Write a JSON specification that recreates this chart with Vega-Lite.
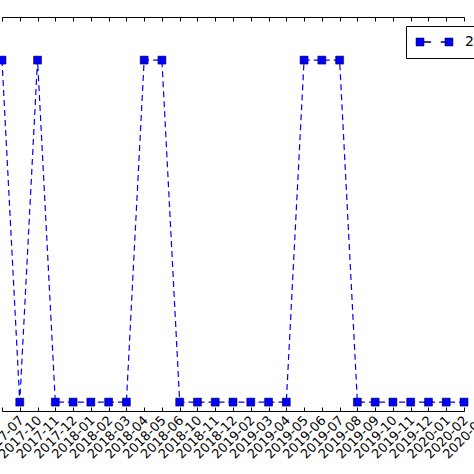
{
  "$schema": "https://vega.github.io/schema/vega-lite/v6.json",
  "width": 474,
  "height": 394,
  "autosize": {"type": "none"},
  "padding": {"top": 17, "left": 0, "right": 0, "bottom": 63},
  "background": "white",
  "config": {
    "view": {"stroke": null},
    "font": "DejaVu Sans",
    "axis": {"grid": false, "domainColor": "black", "tickColor": "black", "labelColor": "black", "labelFont": "DejaVu Sans", "labelFontSize": 13}
  },
  "data": {
    "values": [
      {"month": "2017-07", "value": 1, "series": "2020"},
      {"month": "2017-10", "value": 0, "series": "2020"},
      {"month": "2017-11", "value": 1, "series": "2020"},
      {"month": "2017-12", "value": 0, "series": "2020"},
      {"month": "2018-01", "value": 0, "series": "2020"},
      {"month": "2018-02", "value": 0, "series": "2020"},
      {"month": "2018-03", "value": 0, "series": "2020"},
      {"month": "2018-04", "value": 0, "series": "2020"},
      {"month": "2018-05", "value": 1, "series": "2020"},
      {"month": "2018-06", "value": 1, "series": "2020"},
      {"month": "2018-10", "value": 0, "series": "2020"},
      {"month": "2018-11", "value": 0, "series": "2020"},
      {"month": "2018-12", "value": 0, "series": "2020"},
      {"month": "2019-02", "value": 0, "series": "2020"},
      {"month": "2019-03", "value": 0, "series": "2020"},
      {"month": "2019-04", "value": 0, "series": "2020"},
      {"month": "2019-05", "value": 0, "series": "2020"},
      {"month": "2019-06", "value": 1, "series": "2020"},
      {"month": "2019-07", "value": 1, "series": "2020"},
      {"month": "2019-08", "value": 1, "series": "2020"},
      {"month": "2019-09", "value": 0, "series": "2020"},
      {"month": "2019-10", "value": 0, "series": "2020"},
      {"month": "2019-11", "value": 0, "series": "2020"},
      {"month": "2019-12", "value": 0, "series": "2020"},
      {"month": "2020-01", "value": 0, "series": "2020"},
      {"month": "2020-02", "value": 0, "series": "2020"},
      {"month": "2020-03", "value": 0, "series": "2020"}
    ]
  },
  "encoding": {
    "x": {"field": "month", "type": "ordinal", "sort": null, "scale": {"type": "point", "range": [2, 464], "padding": 0}},
    "y": {"field": "value", "type": "quantitative", "scale": {"domain": [-0.026, 1.126], "nice": false, "zero": false}, "axis": null}
  },
  "layer": [
    {
      "mark": {"type": "line", "strokeDash": [6, 4], "strokeWidth": 1.2, "color": "#0000ff"},
      "encoding": {
        "x": {"field": "month", "type": "ordinal", "sort": null, "scale": {"type": "point", "range": [2, 464], "padding": 0},
          "axis": {"orient": "bottom", "title": null, "labelAngle": -45, "labelAlign": "center", "labelBaseline": "middle", "tickSize": -4, "labelPadding": 30, "domainWidth": 1, "labelOverlap": false}},
        "color": {"field": "series", "type": "nominal", "scale": {"range": ["#0000ff"]}, "legend": null}
      }
    },
    {
      "mark": {"type": "point", "shape": "square", "filled": true, "size": 64, "color": "#0000ff", "stroke": "black", "strokeWidth": 0.5, "opacity": 1},
      "encoding": {
        "x": {"field": "month", "type": "ordinal", "sort": null, "scale": {"type": "point", "range": [2, 464], "padding": 0},
          "axis": {"orient": "top", "title": null, "labels": false, "tickSize": -4, "domainWidth": 1}},
        "fill": {"field": "series", "type": "nominal", "scale": {"range": ["#0000ff"]},
          "legend": {"title": null, "orient": "none", "legendX": 406, "legendY": 9, "padding": 9, "strokeColor": "black", "fillColor": "white", "cornerRadius": 0,
            "symbolType": "M-1,-0.667H0.33V0.667H-1Z M3.83,-0.667H5.16V0.667H3.83Z M0.33,-0.083H1.48V0.083H0.33Z M3.16,-0.083H3.83V0.083H3.16Z",
            "symbolSize": 144, "symbolFillColor": "#0000ff", "symbolStrokeColor": "black", "symbolStrokeWidth": 0.5,
            "labelFont": "DejaVu Sans", "labelFontSize": 14, "labelColor": "black", "labelOffset": 36}}
      }
    }
  ],
  "resolve": {"axis": {"x": "independent"}}
}
